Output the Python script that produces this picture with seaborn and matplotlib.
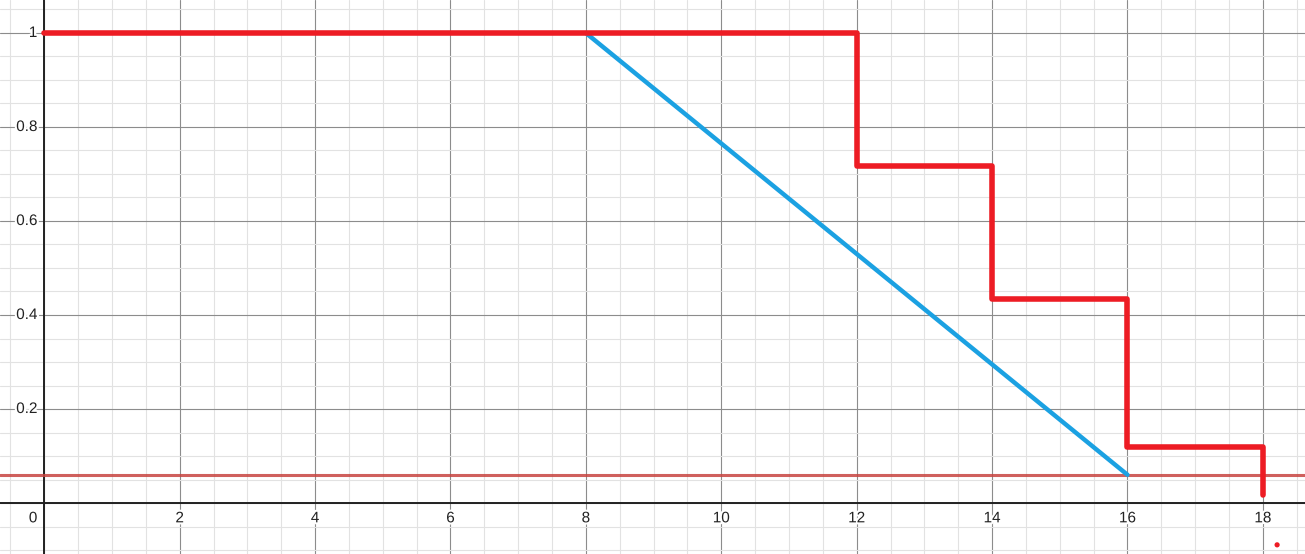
import numpy as np
import pandas as pd
import matplotlib
matplotlib.use('Agg')
import matplotlib.pyplot as plt
import matplotlib.patheffects as pe
import seaborn as sns

sns.set_style('white')
plt.rcParams['font.family'] = ['Liberation Sans', 'DejaVu Sans']

# red step curve (hand drawn)
red_x = [0, 12, 12, 14, 14, 16, 16, 18, 18]
red_y = [1, 1, 0.717, 0.717, 0.433, 0.433, 0.119, 0.119, 0.017]
# blue straight segment
blue_x = [8, 16]
blue_y = [1, 0.06]
# horizontal threshold
thresh = 0.06
# stray dot
dot_x = [18.21]
dot_y = [-0.089]

x_ticks = [0, 2, 4, 6, 8, 10, 12, 14, 16, 18]
y_ticks = [0.2, 0.4, 0.6, 0.8, 1]

fig = plt.figure(figsize=(13.05, 5.54), dpi=100)
ax = fig.add_axes([0, 0, 1, 1])
ax.set_xlim(-0.654, 18.622)
ax.set_ylim(-0.1085, 1.0702)

# grid
for v in np.arange(-0.5, 19, 0.5):
    major = abs(v / 2 - round(v / 2)) < 1e-9
    ax.axvline(v, color='#8c8c8c' if major else '#e2e2e2', lw=0.8, zorder=0)
for v in np.arange(-0.1, 1.1, 0.05):
    major = abs(v / 0.2 - round(v / 0.2)) < 1e-9
    ax.axhline(v, color='#8c8c8c' if major else '#e2e2e2', lw=0.8, zorder=0)
ax.axvline(0, color='#222222', lw=1.4, zorder=1)
ax.axhline(0, color='#222222', lw=1.4, zorder=1)

for s in ax.spines.values():
    s.set_visible(False)
ax.set_xticks([])
ax.set_yticks([])

halo = [pe.withStroke(linewidth=3, foreground='white')]
for t in x_ticks:
    if t == 0:
        ax.annotate('0', (0, 0), xytext=(-5, -6), textcoords='offset points',
                    ha='right', va='top', fontsize=11, color='#222222',
                    path_effects=halo)
    else:
        ax.annotate(str(t), (t, 0), xytext=(0, -6), textcoords='offset points',
                    ha='center', va='top', fontsize=11, color='#222222',
                    path_effects=halo)
for t in y_ticks:
    lab = '1' if t == 1 else '{:g}'.format(t)
    ax.annotate(lab, (0, t), xytext=(-5, 0), textcoords='offset points',
                ha='right', va='center', fontsize=11, color='#222222',
                path_effects=halo)

ax.axhline(thresh, color='#c74440', lw=2.2, alpha=0.85, zorder=2)
sns.lineplot(x=blue_x, y=blue_y, sort=False, estimator=None, color='#1ba1e2',
             lw=3.2, ax=ax, zorder=3)
sns.lineplot(x=red_x, y=red_y, sort=False, estimator=None, color='#ed1c24',
             lw=4, ax=ax, zorder=4)
sns.scatterplot(x=dot_x, y=dot_y, color='#ed1c24', s=14, ax=ax, zorder=5,
                edgecolor='none')
ax.set_xlabel('')
ax.set_ylabel('')

fig.savefig('out.png', dpi=100)
